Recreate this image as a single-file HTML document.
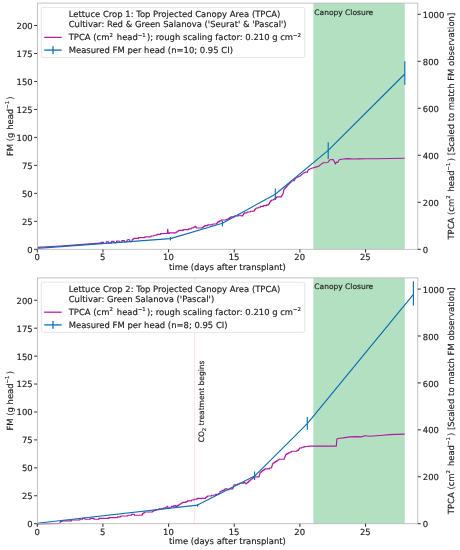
<!DOCTYPE html><html><head><meta charset="utf-8"><style>html,body{margin:0;padding:0;background:#fff;}svg{display:block;text-rendering:geometricPrecision;}text{font-family:'DejaVu Sans', 'Liberation Sans', sans-serif;fill:#1c1c1c;stroke:#1c1c1c;stroke-width:0.15px;}</style></head><body>
<svg width="460" height="550" viewBox="0 0 460 550">
<rect width="460" height="550" fill="#fff"/>
<rect x="313.35" y="3.1" width="91.40" height="246.20" fill="#b3e0c0"/>
<polyline points="37.1,247.4 60.0,246.0 80.0,244.6 100.0,243.1 100.5,243.7 101.0,242.4 103.6,242.4 103.6,243.5 106.2,243.3 106.2,241.9 108.8,241.9 108.8,243.1 111.4,242.9 111.4,241.4 114.0,241.4 114.0,242.7 116.6,242.6 116.6,241.0 119.2,241.0 119.2,242.4 121.8,242.2 121.8,240.5 124.4,240.5 124.4,242.0 127.0,241.8 127.0,240.0 128.9,239.5 129.5,240.0 129.8,240.0 129.8,241.6 132.2,241.6 132.2,239.2 133.8,239.2 133.8,238.4 138.5,238.4 138.5,237.6 144.8,237.6 144.8,236.8 151.0,236.8 151.0,236.0 153.8,236.0 153.8,235.2 156.8,235.2 156.8,234.4 160.5,234.4 160.5,233.6 166.8,233.4 167.2,233.4 167.7,229.4 168.3,233.3 168.6,233.3 169.3,233.6 169.3,232.8 176.1,232.8 176.1,232.0 177.3,232.0 177.3,231.2 178.6,231.2 178.6,230.4 183.1,230.4 183.1,229.6 188.6,229.6 188.6,228.8 191.3,228.8 191.3,228.0 193.1,228.0 193.1,227.2 194.8,227.2 194.8,226.4 195.8,226.4 195.8,227.2 196.6,227.2 196.6,228.0 202.3,228.0 202.3,227.2 203.6,227.2 203.6,226.4 204.8,226.4 204.8,225.6 207.6,225.6 207.6,224.8 212.6,224.8 212.6,224.0 216.6,224.0 216.6,223.2 217.3,223.2 217.3,222.4 218.1,222.4 218.1,221.6 219.6,221.6 219.6,220.8 221.3,220.8 221.3,220.0 226.3,220.0 226.3,219.2 228.3,219.2 228.3,218.4 229.6,218.4 229.6,217.6 230.8,217.6 230.8,216.8 234.3,216.8 234.3,216.0 238.6,216.0 238.6,215.2 241.1,215.2 241.1,216.0 242.6,216.0 242.6,215.2 243.1,215.2 243.1,214.4 243.6,214.4 243.6,213.6 244.3,213.6 244.3,212.8 247.1,212.8 247.1,212.0 250.3,212.0 250.3,211.2 254.1,211.2 254.1,210.4 254.6,210.4 254.6,209.6 255.3,209.6 255.3,208.8 256.1,208.8 256.1,208.0 258.4,208.0 258.4,207.2 260.4,207.2 260.4,206.4 263.4,206.4 263.4,205.6 266.6,205.6 266.6,204.8 268.4,204.8 268.4,204.0 269.4,204.0 269.4,203.2 269.6,203.2 269.6,202.4 270.1,202.4 270.1,201.6 270.4,201.6 270.4,200.8 271.6,200.8 271.6,200.0 273.6,200.0 273.6,199.2 274.9,199.2 274.9,198.4 275.9,198.4 275.9,197.6 276.6,197.6 276.6,196.8 281.4,196.8 281.4,196.0 281.9,196.0 281.9,195.2 282.4,195.2 282.4,194.4 282.9,194.4 282.9,193.6 283.1,193.6 283.1,192.8 283.4,192.8 283.4,191.2 283.6,191.2 283.6,190.4 283.9,190.4 283.9,189.6 284.1,189.6 284.1,188.8 284.9,188.8 284.9,188.0 285.6,188.0 285.6,187.2 286.4,187.2 286.4,186.4 287.1,186.4 287.1,185.6 288.0,185.1 288.7,184.4 293.3,179.8 294.0,181.0 295.6,178.3 300.1,176.0 303.9,172.9 306.0,172.0 307.3,172.3 308.3,169.7 311.8,168.2 315.7,167.1 318.7,166.2 321.0,164.4 323.3,162.8 327.8,162.5 329.7,159.8 333.2,159.5 334.2,161.3 335.4,164.0 336.2,162.1 337.7,162.5 339.2,159.8 343.1,159.0 347.6,158.6 353.7,159.0 359.8,158.9 365.9,158.7 375.0,158.7 390.0,158.5 404.7,158.3" fill="none" stroke="#b01c9e" stroke-width="1.15" stroke-linejoin="round"/>
<polyline points="37.1,248.4 170.4,238.6 222.4,223.3 275.3,194.2 328.2,150.4 404.8,74.0" fill="none" stroke="#0b70b1" stroke-width="1.15" stroke-linejoin="round"/>
<line x1="170.4" y1="237.0" x2="170.4" y2="240.6" stroke="#0b70b1" stroke-width="1.15"/>
<line x1="222.4" y1="220.8" x2="222.4" y2="226.5" stroke="#0b70b1" stroke-width="1.15"/>
<line x1="275.3" y1="188.5" x2="275.3" y2="200.0" stroke="#0b70b1" stroke-width="1.15"/>
<line x1="328.2" y1="142.2" x2="328.2" y2="159.0" stroke="#0b70b1" stroke-width="1.15"/>
<line x1="404.8" y1="61.3" x2="404.8" y2="84.7" stroke="#0b70b1" stroke-width="1.15"/>
<rect x="37.5" y="3.1" width="380.30" height="246.20" fill="none" stroke="#b8b8b8" stroke-width="0.85"/>
<line x1="37.30" y1="249.3" x2="37.30" y2="252.5" stroke="#1a1a1a" stroke-width="0.9"/>
<text x="37.10" y="260.3" font-size="8.45" text-anchor="middle">0</text>
<line x1="102.95" y1="249.3" x2="102.95" y2="252.5" stroke="#1a1a1a" stroke-width="0.9"/>
<text x="102.75" y="260.3" font-size="8.45" text-anchor="middle">5</text>
<line x1="168.60" y1="249.3" x2="168.60" y2="252.5" stroke="#1a1a1a" stroke-width="0.9"/>
<text x="168.40" y="260.3" font-size="8.45" text-anchor="middle">10</text>
<line x1="234.25" y1="249.3" x2="234.25" y2="252.5" stroke="#1a1a1a" stroke-width="0.9"/>
<text x="234.05" y="260.3" font-size="8.45" text-anchor="middle">15</text>
<line x1="299.90" y1="249.3" x2="299.90" y2="252.5" stroke="#1a1a1a" stroke-width="0.9"/>
<text x="299.70" y="260.3" font-size="8.45" text-anchor="middle">20</text>
<line x1="365.55" y1="249.3" x2="365.55" y2="252.5" stroke="#1a1a1a" stroke-width="0.9"/>
<text x="365.35" y="260.3" font-size="8.45" text-anchor="middle">25</text>
<line x1="34.1" y1="249.30" x2="37.1" y2="249.30" stroke="#1a1a1a" stroke-width="0.9"/>
<text x="32.70" y="252.70" font-size="8.45" text-anchor="end">0</text>
<line x1="34.1" y1="221.32" x2="37.1" y2="221.32" stroke="#1a1a1a" stroke-width="0.9"/>
<text x="32.70" y="224.72" font-size="8.45" text-anchor="end">25</text>
<line x1="34.1" y1="193.35" x2="37.1" y2="193.35" stroke="#1a1a1a" stroke-width="0.9"/>
<text x="32.70" y="196.75" font-size="8.45" text-anchor="end">50</text>
<line x1="34.1" y1="165.37" x2="37.1" y2="165.37" stroke="#1a1a1a" stroke-width="0.9"/>
<text x="32.70" y="168.77" font-size="8.45" text-anchor="end">75</text>
<line x1="34.1" y1="137.39" x2="37.1" y2="137.39" stroke="#1a1a1a" stroke-width="0.9"/>
<text x="32.70" y="140.79" font-size="8.45" text-anchor="end">100</text>
<line x1="34.1" y1="109.41" x2="37.1" y2="109.41" stroke="#1a1a1a" stroke-width="0.9"/>
<text x="32.70" y="112.81" font-size="8.45" text-anchor="end">125</text>
<line x1="34.1" y1="81.44" x2="37.1" y2="81.44" stroke="#1a1a1a" stroke-width="0.9"/>
<text x="32.70" y="84.84" font-size="8.45" text-anchor="end">150</text>
<line x1="34.1" y1="53.46" x2="37.1" y2="53.46" stroke="#1a1a1a" stroke-width="0.9"/>
<text x="32.70" y="56.86" font-size="8.45" text-anchor="end">175</text>
<line x1="34.1" y1="25.48" x2="37.1" y2="25.48" stroke="#1a1a1a" stroke-width="0.9"/>
<text x="32.70" y="28.88" font-size="8.45" text-anchor="end">200</text>
<line x1="417.8" y1="249.30" x2="420.8" y2="249.30" stroke="#1a1a1a" stroke-width="0.9"/>
<text x="422.80" y="252.90" font-size="8.45">0</text>
<line x1="417.8" y1="202.30" x2="420.8" y2="202.30" stroke="#1a1a1a" stroke-width="0.9"/>
<text x="422.80" y="205.90" font-size="8.45">200</text>
<line x1="417.8" y1="155.30" x2="420.8" y2="155.30" stroke="#1a1a1a" stroke-width="0.9"/>
<text x="422.80" y="158.90" font-size="8.45">400</text>
<line x1="417.8" y1="108.29" x2="420.8" y2="108.29" stroke="#1a1a1a" stroke-width="0.9"/>
<text x="422.80" y="111.89" font-size="8.45">600</text>
<line x1="417.8" y1="61.29" x2="420.8" y2="61.29" stroke="#1a1a1a" stroke-width="0.9"/>
<text x="422.80" y="64.89" font-size="8.45">800</text>
<line x1="417.8" y1="14.29" x2="420.8" y2="14.29" stroke="#1a1a1a" stroke-width="0.9"/>
<text x="422.80" y="17.89" font-size="8.45">1000</text>
<text x="314.35" y="14.6" font-size="7.5">Canopy Closure</text>
<rect x="41.3" y="7.40" width="263.50" height="50.10" rx="1.6" ry="1.6" fill="#fff" fill-opacity="0.8" stroke="#e2e2e2" stroke-width="0.9"/>
<text x="68.7" y="17.30" font-size="8.45">Lettuce Crop 1: Top Projected Canopy Area (TPCA)</text>
<text x="68.7" y="26.70" font-size="8.45">Cultivar: Red &amp; Green Salanova ('Seurat' &amp; 'Pascal')</text>
<line x1="44.2" y1="37.40" x2="61.7" y2="37.40" stroke="#b01c9e" stroke-width="1.25"/>
<text x="68.7" y="40.20" font-size="8.45">TPCA (cm<tspan font-size="5.3" dy="-3.7">2</tspan><tspan dy="3.7" dx="1.3"> head</tspan><tspan font-size="5.3" dy="-3.7">−1</tspan><tspan dy="3.7" dx="1.3">); rough scaling factor: 0.210 g cm</tspan><tspan font-size="5.3" dy="-3.7">−2</tspan></text>
<line x1="44.2" y1="50.10" x2="61.7" y2="50.10" stroke="#0b70b1" stroke-width="1.3"/>
<line x1="53.0" y1="46.20" x2="53.0" y2="53.90" stroke="#0b70b1" stroke-width="1.3"/>
<text x="68.7" y="52.90" font-size="8.45">Measured FM per head (n=10; 0.95 CI)</text>
<text x="227.45" y="269.70" font-size="8.45" text-anchor="middle">time (days after transplant)</text>
<text transform="translate(12.9,126.20) rotate(-90)" font-size="8.45" text-anchor="middle">FM (g head<tspan font-size="5.3" dy="-3.7">−1</tspan><tspan dy="3.7" dx="1.3">)</tspan></text>
<text transform="translate(453.6,126.20) rotate(-90)" font-size="8.45" text-anchor="middle">TPCA (cm<tspan font-size="5.3" dy="-3.7">2</tspan><tspan dy="3.7" dx="1.3"> head</tspan><tspan font-size="5.3" dy="-3.7">−1</tspan><tspan dy="3.7" dx="1.3">) [Scaled to match FM observation]</tspan></text>
<rect x="313.35" y="277.9" width="91.40" height="245.80" fill="#b3e0c0"/>
<line x1="194.66" y1="277.9" x2="194.66" y2="523.7" stroke="#fbe2e2" stroke-width="1"/>
<polyline points="37.1,524.0 59.8,523.4 60.6,521.3 61.0,521.3 62.0,521.6 62.0,520.8 71.5,520.8 71.5,520.0 79.8,520.0 79.8,519.2 82.5,519.2 82.5,518.4 85.0,518.4 85.0,519.2 90.2,519.2 90.2,518.4 94.0,518.4 94.0,519.2 98.8,519.2 98.8,518.4 108.8,518.4 108.8,517.6 117.5,517.6 117.5,516.8 120.8,516.8 120.8,516.0 127.8,516.0 127.8,515.2 131.5,515.2 131.5,514.4 134.5,514.4 134.5,515.2 142.0,515.2 142.0,514.4 142.5,514.4 142.5,513.6 143.2,513.6 143.2,512.8 144.8,512.8 144.8,512.0 152.5,512.0 152.5,511.2 153.8,511.2 153.8,510.4 156.0,510.4 156.0,509.6 159.0,509.6 159.0,508.8 163.0,508.8 163.0,508.0 165.5,508.0 165.5,507.2 167.0,507.2 167.0,506.4 167.5,506.4 167.5,507.2 171.5,507.2 171.5,506.4 174.0,506.4 174.0,505.6 175.8,505.6 175.8,506.4 177.2,506.4 177.2,505.6 178.5,505.6 178.5,504.8 179.8,504.8 179.8,504.0 181.0,504.0 181.0,503.2 182.2,503.2 182.2,502.4 186.0,502.4 186.0,501.6 187.5,501.6 187.5,500.8 191.5,500.8 191.5,500.0 194.0,500.0 194.0,499.2 197.0,499.2 197.0,498.4 205.5,498.4 205.5,497.6 206.2,497.6 206.2,496.8 207.5,496.8 207.5,496.0 211.5,496.0 211.5,495.2 215.5,495.2 215.5,494.4 218.5,494.4 218.5,493.6 219.8,493.6 219.8,492.8 220.0,492.8 220.0,492.0 220.2,492.0 220.2,491.2 222.2,491.2 222.2,490.4 224.2,490.4 224.2,489.6 225.0,489.6 225.0,488.8 227.2,488.8 227.2,489.6 229.2,489.6 229.2,488.8 232.8,488.8 232.8,488.0 233.0,488.0 233.0,487.2 233.5,487.2 233.5,486.4 233.8,486.4 233.8,485.6 234.0,485.6 234.0,484.8 237.5,484.8 237.5,484.0 239.5,484.0 239.5,483.2 243.5,483.2 243.5,482.4 245.0,482.4 245.0,483.2 246.0,483.2 246.0,484.0 246.2,484.0 246.2,483.2 247.2,483.2 247.2,482.4 248.2,482.4 248.2,481.6 249.0,481.6 249.0,480.8 250.0,480.8 250.0,480.0 251.0,480.0 251.0,479.2 252.0,479.2 252.0,478.4 252.8,478.4 252.8,477.6 253.8,477.6 253.8,476.8 259.2,476.8 259.2,475.2 259.5,475.2 259.5,474.4 259.8,474.4 259.8,472.8 260.2,472.8 260.2,472.0 261.5,472.0 261.5,471.2 262.5,471.2 262.5,470.4 263.8,470.4 263.8,469.6 264.8,469.6 264.8,468.8 269.5,468.8 269.5,468.0 271.5,468.0 271.5,467.2 271.8,467.2 271.8,466.4 272.0,466.4 272.0,465.6 272.2,465.6 272.2,464.8 272.5,464.8 272.5,464.0 272.8,464.0 272.8,463.2 274.0,463.2 274.0,462.4 275.2,462.4 275.2,461.6 276.5,461.6 276.5,460.8 277.8,460.8 277.8,460.0 278.8,460.0 278.8,459.2 284.2,459.2 284.2,458.4 284.5,458.4 284.5,457.6 284.8,457.6 284.8,456.8 285.2,456.8 285.2,456.0 285.5,456.0 285.5,455.2 285.8,455.2 285.8,454.4 286.8,454.4 286.8,453.6 288.2,453.6 288.2,452.8 290.0,452.8 290.0,452.0 291.5,452.0 291.5,451.2 297.0,451.2 297.0,450.4 298.5,450.4 298.5,449.6 299.0,449.6 299.0,448.8 299.5,448.8 299.5,448.0 301.8,448.0 301.8,447.2 304.0,447.2 304.0,446.4 305.0,446.7 310.0,446.1 336.3,446.1 336.9,439.0 339.1,438.2 343.2,437.9 349.8,436.9 356.4,436.6 361.4,436.9 364.7,435.7 369.7,436.2 376.3,435.7 382.9,435.2 389.5,434.6 396.1,434.4 404.7,434.1" fill="none" stroke="#b01c9e" stroke-width="1.15" stroke-linejoin="round"/>
<polyline points="37.1,523.2 197.5,505.1 254.6,476.1 307.3,423.7 413.4,294.3" fill="none" stroke="#0b70b1" stroke-width="1.15" stroke-linejoin="round"/>
<line x1="197.5" y1="504.0" x2="197.5" y2="506.7" stroke="#0b70b1" stroke-width="1.15"/>
<line x1="254.6" y1="471.5" x2="254.6" y2="480.0" stroke="#0b70b1" stroke-width="1.15"/>
<line x1="307.3" y1="417.1" x2="307.3" y2="429.8" stroke="#0b70b1" stroke-width="1.15"/>
<line x1="413.4" y1="281.3" x2="413.4" y2="305.4" stroke="#0b70b1" stroke-width="1.15"/>
<rect x="37.5" y="277.9" width="380.30" height="245.80" fill="none" stroke="#b8b8b8" stroke-width="0.85"/>
<line x1="37.30" y1="523.7" x2="37.30" y2="526.9000000000001" stroke="#1a1a1a" stroke-width="0.9"/>
<text x="37.10" y="534.7" font-size="8.45" text-anchor="middle">0</text>
<line x1="102.95" y1="523.7" x2="102.95" y2="526.9000000000001" stroke="#1a1a1a" stroke-width="0.9"/>
<text x="102.75" y="534.7" font-size="8.45" text-anchor="middle">5</text>
<line x1="168.60" y1="523.7" x2="168.60" y2="526.9000000000001" stroke="#1a1a1a" stroke-width="0.9"/>
<text x="168.40" y="534.7" font-size="8.45" text-anchor="middle">10</text>
<line x1="234.25" y1="523.7" x2="234.25" y2="526.9000000000001" stroke="#1a1a1a" stroke-width="0.9"/>
<text x="234.05" y="534.7" font-size="8.45" text-anchor="middle">15</text>
<line x1="299.90" y1="523.7" x2="299.90" y2="526.9000000000001" stroke="#1a1a1a" stroke-width="0.9"/>
<text x="299.70" y="534.7" font-size="8.45" text-anchor="middle">20</text>
<line x1="365.55" y1="523.7" x2="365.55" y2="526.9000000000001" stroke="#1a1a1a" stroke-width="0.9"/>
<text x="365.35" y="534.7" font-size="8.45" text-anchor="middle">25</text>
<line x1="34.1" y1="523.70" x2="37.1" y2="523.70" stroke="#1a1a1a" stroke-width="0.9"/>
<text x="32.70" y="527.10" font-size="8.45" text-anchor="end">0</text>
<line x1="34.1" y1="495.77" x2="37.1" y2="495.77" stroke="#1a1a1a" stroke-width="0.9"/>
<text x="32.70" y="499.17" font-size="8.45" text-anchor="end">25</text>
<line x1="34.1" y1="467.84" x2="37.1" y2="467.84" stroke="#1a1a1a" stroke-width="0.9"/>
<text x="32.70" y="471.24" font-size="8.45" text-anchor="end">50</text>
<line x1="34.1" y1="439.90" x2="37.1" y2="439.90" stroke="#1a1a1a" stroke-width="0.9"/>
<text x="32.70" y="443.30" font-size="8.45" text-anchor="end">75</text>
<line x1="34.1" y1="411.97" x2="37.1" y2="411.97" stroke="#1a1a1a" stroke-width="0.9"/>
<text x="32.70" y="415.37" font-size="8.45" text-anchor="end">100</text>
<line x1="34.1" y1="384.04" x2="37.1" y2="384.04" stroke="#1a1a1a" stroke-width="0.9"/>
<text x="32.70" y="387.44" font-size="8.45" text-anchor="end">125</text>
<line x1="34.1" y1="356.11" x2="37.1" y2="356.11" stroke="#1a1a1a" stroke-width="0.9"/>
<text x="32.70" y="359.51" font-size="8.45" text-anchor="end">150</text>
<line x1="34.1" y1="328.18" x2="37.1" y2="328.18" stroke="#1a1a1a" stroke-width="0.9"/>
<text x="32.70" y="331.58" font-size="8.45" text-anchor="end">175</text>
<line x1="34.1" y1="300.25" x2="37.1" y2="300.25" stroke="#1a1a1a" stroke-width="0.9"/>
<text x="32.70" y="303.65" font-size="8.45" text-anchor="end">200</text>
<line x1="417.8" y1="523.70" x2="420.8" y2="523.70" stroke="#1a1a1a" stroke-width="0.9"/>
<text x="422.80" y="527.30" font-size="8.45">0</text>
<line x1="417.8" y1="476.77" x2="420.8" y2="476.77" stroke="#1a1a1a" stroke-width="0.9"/>
<text x="422.80" y="480.37" font-size="8.45">200</text>
<line x1="417.8" y1="429.85" x2="420.8" y2="429.85" stroke="#1a1a1a" stroke-width="0.9"/>
<text x="422.80" y="433.45" font-size="8.45">400</text>
<line x1="417.8" y1="382.92" x2="420.8" y2="382.92" stroke="#1a1a1a" stroke-width="0.9"/>
<text x="422.80" y="386.52" font-size="8.45">600</text>
<line x1="417.8" y1="336.00" x2="420.8" y2="336.00" stroke="#1a1a1a" stroke-width="0.9"/>
<text x="422.80" y="339.60" font-size="8.45">800</text>
<line x1="417.8" y1="289.07" x2="420.8" y2="289.07" stroke="#1a1a1a" stroke-width="0.9"/>
<text x="422.80" y="292.67" font-size="8.45">1000</text>
<text x="314.35" y="289.4" font-size="7.5">Canopy Closure</text>
<text transform="translate(204.3,442.3) rotate(-90)" font-size="7.5">CO<tspan font-size="5.3" dy="1.2">2</tspan><tspan dy="-1.2"> treatment begins</tspan></text>
<rect x="41.3" y="282.20" width="263.50" height="50.10" rx="1.6" ry="1.6" fill="#fff" fill-opacity="0.8" stroke="#e2e2e2" stroke-width="0.9"/>
<text x="68.7" y="292.10" font-size="8.45">Lettuce Crop 2: Top Projected Canopy Area (TPCA)</text>
<text x="68.7" y="301.50" font-size="8.45">Cultivar: Green Salanova ('Pascal')</text>
<line x1="44.2" y1="312.20" x2="61.7" y2="312.20" stroke="#b01c9e" stroke-width="1.25"/>
<text x="68.7" y="315.00" font-size="8.45">TPCA (cm<tspan font-size="5.3" dy="-3.7">2</tspan><tspan dy="3.7" dx="1.3"> head</tspan><tspan font-size="5.3" dy="-3.7">−1</tspan><tspan dy="3.7" dx="1.3">); rough scaling factor: 0.210 g cm</tspan><tspan font-size="5.3" dy="-3.7">−2</tspan></text>
<line x1="44.2" y1="324.90" x2="61.7" y2="324.90" stroke="#0b70b1" stroke-width="1.3"/>
<line x1="53.0" y1="321.00" x2="53.0" y2="328.70" stroke="#0b70b1" stroke-width="1.3"/>
<text x="68.7" y="327.70" font-size="8.45">Measured FM per head (n=8; 0.95 CI)</text>
<text x="227.45" y="544.10" font-size="8.45" text-anchor="middle">time (days after transplant)</text>
<text transform="translate(12.9,400.80) rotate(-90)" font-size="8.45" text-anchor="middle">FM (g head<tspan font-size="5.3" dy="-3.7">−1</tspan><tspan dy="3.7" dx="1.3">)</tspan></text>
<text transform="translate(453.6,400.80) rotate(-90)" font-size="8.45" text-anchor="middle">TPCA (cm<tspan font-size="5.3" dy="-3.7">2</tspan><tspan dy="3.7" dx="1.3"> head</tspan><tspan font-size="5.3" dy="-3.7">−1</tspan><tspan dy="3.7" dx="1.3">) [Scaled to match FM observation]</tspan></text>
</svg></body></html>
